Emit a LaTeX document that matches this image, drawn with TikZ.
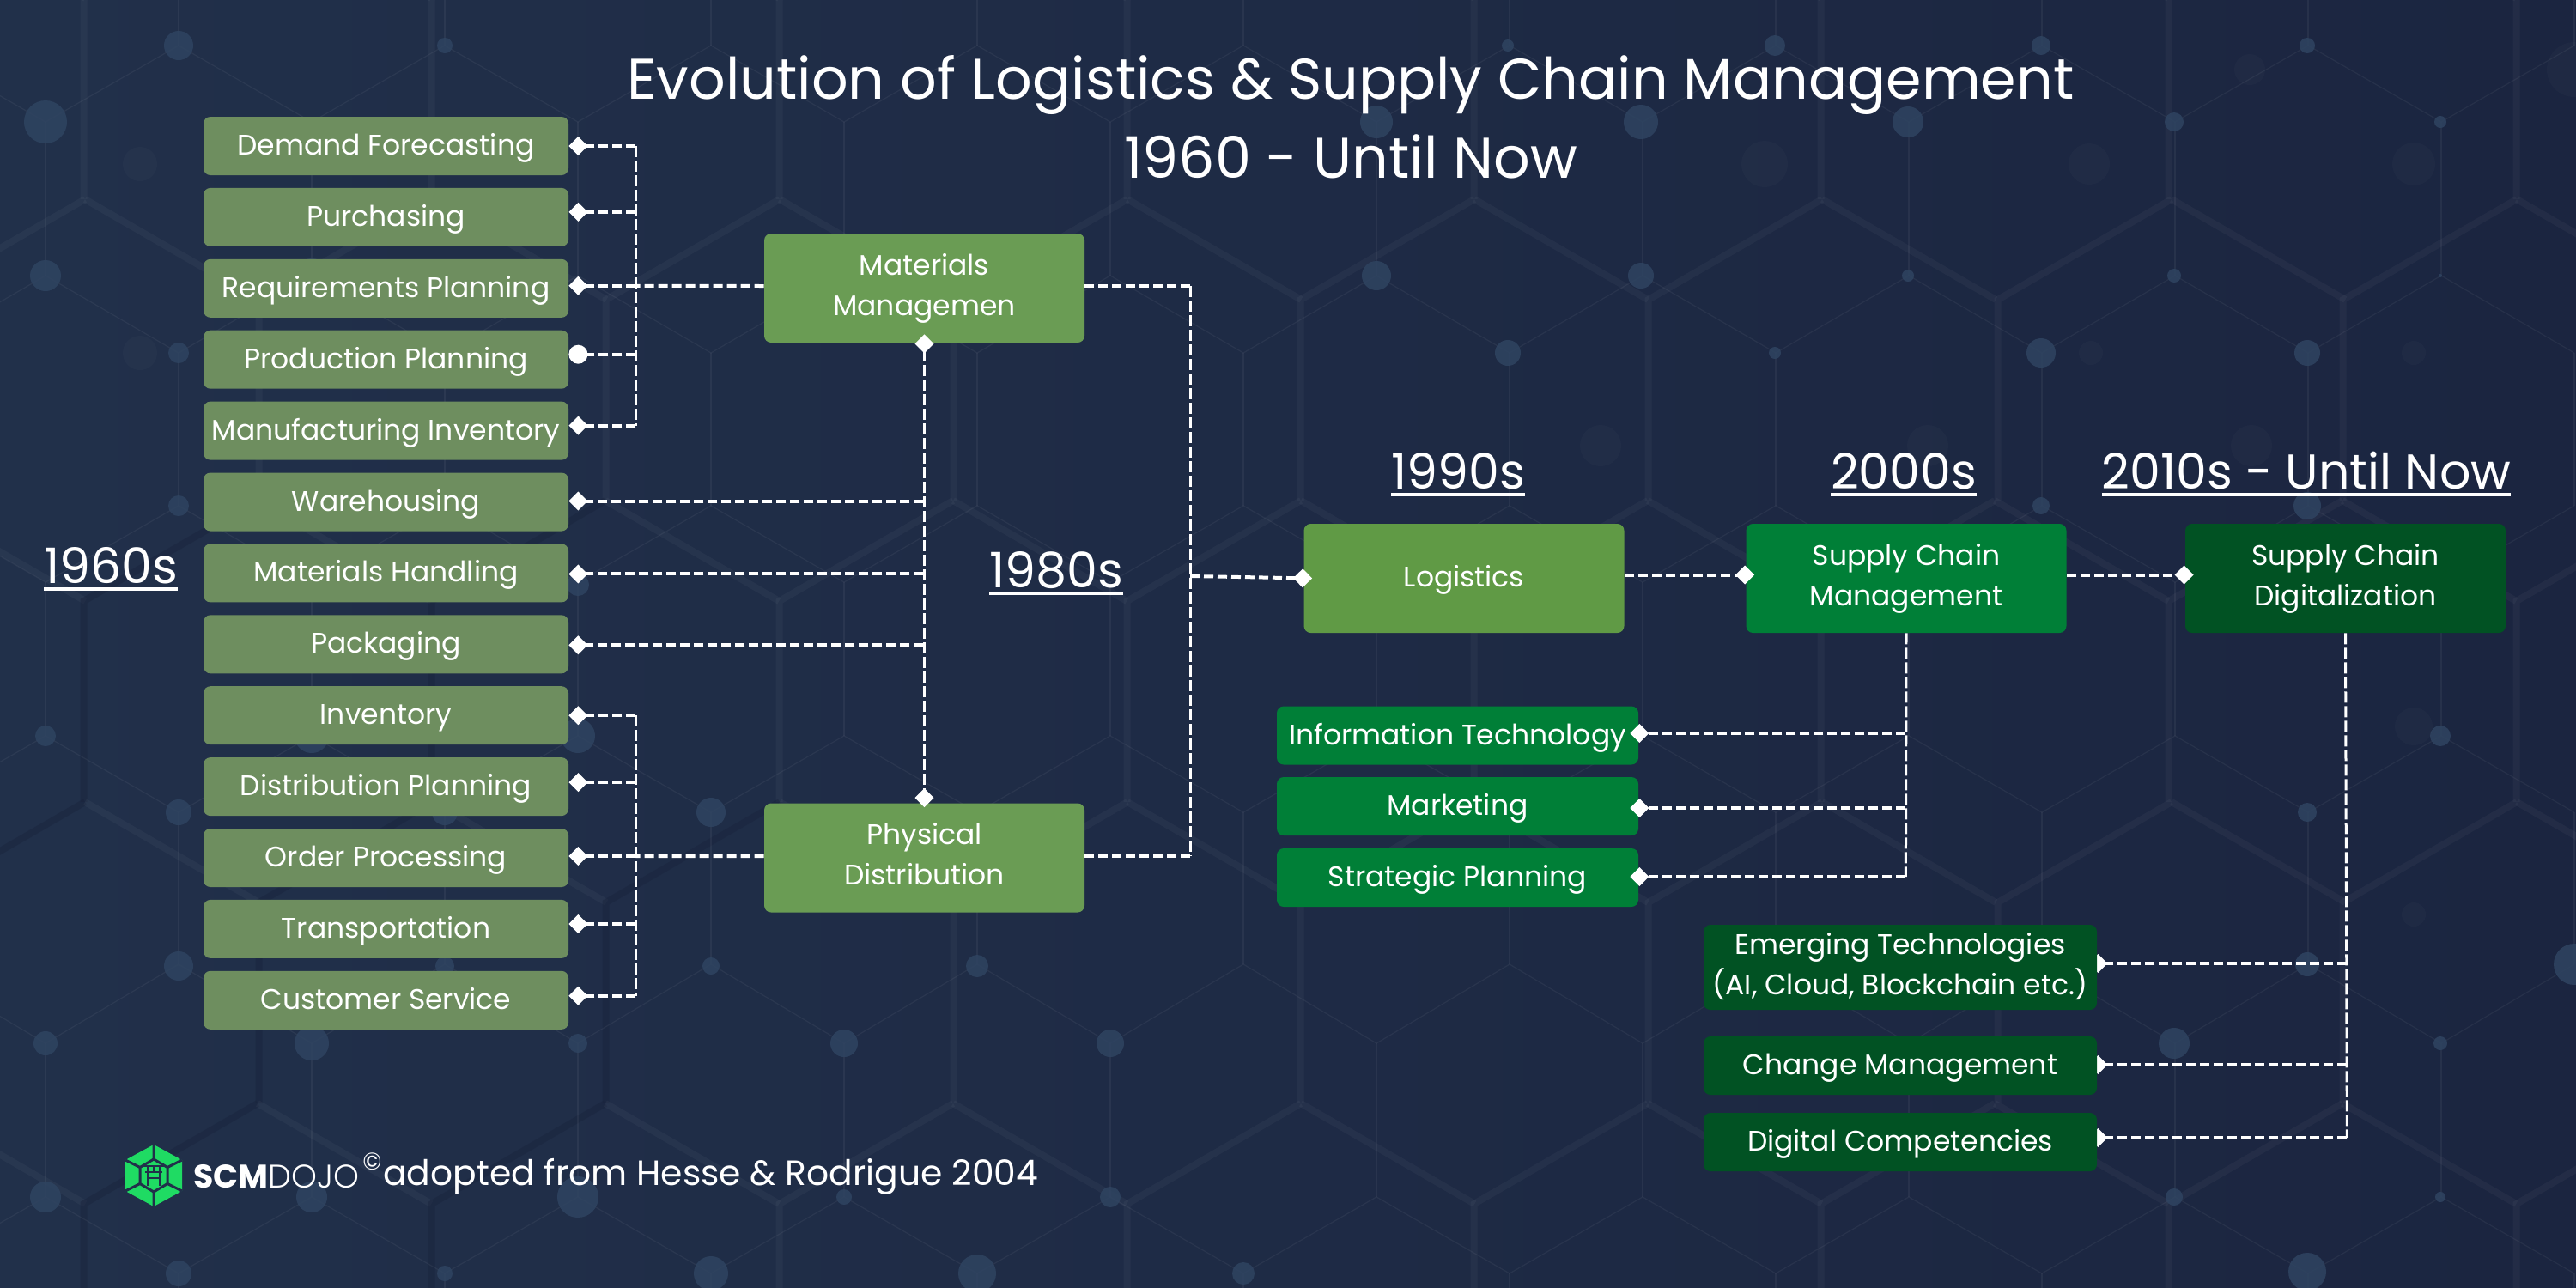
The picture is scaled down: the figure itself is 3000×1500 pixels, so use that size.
\documentclass[tikz,border=0pt]{standalone}
\usepackage{fontspec}
\setmainfont{Poppins}
\newfontfamily\brandlight{Poppins Light}
\usetikzlibrary{arrows.meta,backgrounds}

\definecolor{bgleft}{HTML}{21304A}
\definecolor{bgright}{HTML}{1B2540}
\definecolor{listgreen}{HTML}{6E8E5F}
\definecolor{mgmtgreen}{HTML}{6A9C54}
\definecolor{logigreen}{HTML}{609A45}
\definecolor{scmgreen}{HTML}{007F37}
\definecolor{digigreen}{HTML}{015223}
\definecolor{logogreen}{HTML}{1FDB63}
\definecolor{dotblue}{HTML}{2F4461}
\definecolor{darkline}{HTML}{19233C}

\newcommand{\decade}[1]{\setbox0\hbox{#1}\rlap{\raisebox{-4.5pt}{\rule{\wd0}{1.8pt}}}\box0}

\tikzset{
  box/.style={rounded corners=4pt, inner sep=0pt, text=white, align=center,
    font=\fontsize{16.5}{23.5}\selectfont},
  oneline/.style={text height=14pt, text depth=3.5pt},
  twolines/.style={execute at begin node=\rule[-4.5pt]{0pt}{19pt},
    execute at end node=\rule[-4.5pt]{0pt}{19pt}},
  listbox/.style={box, oneline, fill=listgreen, minimum width=212.5pt, minimum height=34pt},
  mgmtbox/.style={box, twolines, fill=mgmtgreen, minimum width=186.5pt, minimum height=63.5pt},
  stagebox/.style={box, twolines, minimum width=186.5pt, minimum height=63.5pt},
  scmbox/.style={box, oneline, fill=scmgreen, minimum width=210.5pt, minimum height=34pt},
  digibox/.style={box, fill=digigreen, minimum width=229pt, minimum height=34pt},
  decadelabel/.style={text=white, inner sep=0pt, anchor=base, font=\fontsize{28.5}{30}\selectfont},
  titleline/.style={text=white, inner sep=0pt, anchor=base, font=\fontsize{33.4}{36}\selectfont},
  flow/.style={draw=white, line width=2pt, dash pattern=on 5.5pt off 2.5pt},
  flowv/.style={draw=white, line width=1.5pt, dash pattern=on 6.5pt off 2pt},
  diatip/.style={-{Diamond[length=11pt,width=11pt,line width=0pt]}},
  roundtip/.style={-{Circle[length=11pt,line width=0pt]}},
  hexlight/.style={draw=white, draw opacity=.035, line width=4pt},
  hexdark/.style={draw=darkline, draw opacity=.45, line width=4pt},
  thinline/.style={draw=white, draw opacity=.05, line width=.6pt},
  logospoke/.style={draw=bgleft, line width=1.5pt}
}

\begin{document}
\begin{tikzpicture}[x=.5pt,y=-.5pt]
  \useasboundingbox (0,0) rectangle (3000,1500);

  % Backdrop
  \begin{scope}[on background layer]
    \shade[left color=bgleft, right color=bgright] (0,0) rectangle (3000,1500);
    \clip (0,0) rectangle (3000,1500);

    % Thick honeycomb
    \foreach \cy/\cxlist in {115/{-103,300,705,1110,1515,1919,2323,2728,3133},
        466/{99,504,908,1313,1717,2122,2529,2931},
        817/{-103,300,705,1110,1515,1919,2323,2728,3133},
        1168/{99,504,908,1313,1717,2122,2529,2931},
        1519/{-103,300,705,1110,1515,1919,2323,2728,3133}} {
      \foreach \cx in \cxlist {
        \def\hexleft{hexlight}
        \ifnum\cy>600 \ifnum\cx<1100 \def\hexleft{hexdark}\fi\fi
        \draw[\hexleft] (\cx-202.3,\cy+117) -- (\cx-202.3,\cy-117) -- (\cx,\cy-234);
        \draw[hexlight] (\cx,\cy-234) -- (\cx+202.3,\cy-117);
      }
    }

    % Thin lattice
    \foreach \i in {-1,0,...,9} {
      \pgfmathsetmacro\xa{53+310*\i}
      \foreach \ya/\yb in {142/53,321/411,678/589,857/946,1215/1123,1394/1483}
        \draw[thinline] (\xa-155,\yb) -- (\xa,\ya) -- (\xa+155,\yb);
      \foreach \ya/\yb in {142/321,678/857,1215/1394}
        \draw[thinline] (\xa,\ya) -- (\xa,\yb);
      \foreach \ya/\yb in {53/-36,411/589,946/1123,1483/1572}
        \draw[thinline] (\xa+155,\ya) -- (\xa+155,\yb);
    }

    % Dots on the lattice
    \foreach \dx/\dy/\dr in {1756/53/7,2067/53/12,2377/53/11,2687/53/9,1603/142/19,1911/142/20,
        2222/142/18,2532/142/11,2842/142/7,1603/321/17,1911/321/15,2222/321/7,2532/321/8,2842/321/2,
        1756/411/15,2067/411/7,2377/411/17,2687/411/15,2377/589/10,2687/589/16,2532/1215/18,
        2842/1215/8,2842/857/12,2687/1123/14,2687/946/11,2532/1394/10,2842/1394/6,2687/1481/22,
        2998/1123/24,208/53/17,518/53/9,53/142/25,53/321/18,208/411/12,208/589/12,673/681/13,
        363/321/20,53/857/12,363/857/20,673/857/20,208/946/15,518/946/15,828/946/17,208/1125/17,
        518/1125/11,828/1125/10,1138/1125/13,53/1215/14,363/1215/20,673/1215/11,983/1215/16,
        1293/1215/16,53/1394/18,363/1394/18,673/1394/24,983/1394/9,1293/1394/12,208/1483/15,
        518/1483/9,828/1483/20,1138/1483/22,1448/1483/13}
      \fill[dotblue, fill opacity=.85] (\dx,\dy) circle[radius=\dr];

    % Faint dots
    \foreach \dx/\dy/\dr in {2055/191/27,2433/191/24,2811/191/25,1864/519/24,2245/519/24,2622/519/24,
        2811/846/22,2811/1065/14,2998/81/32,2620/81/18,2435/411/14,2811/411/14,163/191/20,163/411/20}
      \fill[white, fill opacity=.018] (\dx,\dy) circle[radius=\dr];
  \end{scope}

  % Title
  \node[titleline] (title) at (1573,115) {Evolution of Logistics \& Supply Chain Management};
  \node[titleline] (subtitle) at (1573,207) {1960 - Until Now};

  % Decades
  \node[decadelabel] (d1960) at (129,679) {\decade{1960s}};
  \node[decadelabel] (d1980) at (1230,684) {\decade{1980s}};
  \node[decadelabel] (d1990) at (1698,569) {\decade{1990s}};
  \node[decadelabel] (d2000) at (2217,569) {\decade{2000s}};
  \node[decadelabel] (d2010) at (2686,569) {\decade{2010s - Until Now}};

  % 1960s list
  \foreach \id/\txt [count=\i from 0] in {demand/Demand Forecasting, purch/Purchasing,
      req/Requirements Planning, prod/Production Planning, manuf/Manufacturing Inventory,
      ware/Warehousing, handl/Materials Handling, pack/Packaging, inv/Inventory,
      dist/Distribution Planning, order/Order Processing, trans/Transportation, cust/Customer Service}
    \node[listbox] (\id) at (449.5,{170+82.9*\i}) {\txt};

  % Management boxes
  \node[mgmtbox] (mat) at (1076.5,335.5) {Materials\\Managemen};
  \node[mgmtbox] (phys) at (1076.5,999) {Physical\\Distribution};

  % Stages
  \node[stagebox, fill=logigreen] (logi) at (1705,673.5) {Logistics};
  \node[stagebox, fill=scmgreen] (scm) at (2220,673.5) {Supply Chain\\Management};
  \node[stagebox, fill=digigreen] (scd) at (2731.5,673.5) {Supply Chain\\Digitalization};

  % SCM topics
  \node[scmbox] (tech) at (1697.5,856.5) {Information Technology};
  \node[scmbox] (mkt) at (1697.5,939) {Marketing};
  \node[scmbox] (strat) at (1697.5,1022) {Strategic Planning};

  % Digital topics
  \node[digibox, twolines, minimum height=49.5pt] (emerg) at (2213,1126.5) {Emerging Technologies\\(AI, Cloud, Blockchain etc.)};
  \node[digibox, oneline] (chg) at (2213,1241) {Change Management};
  \node[digibox, oneline] (comp) at (2213,1330) {Digital Competencies};

  % Joints on the buses
  \foreach \id/\dy/\len in {demand/0/78,purch/3/78,req/1.5/78,prod/3/78,manuf/3/78,
      ware/.5/413,handl/-.5/413,pack/-.5/413,inv/0/78,dist/2.5/78,order/1/78,trans/3/78,cust/2.5/78}
    \path ([yshift=\dy pt]\id.east) ++(\len,0) coordinate (\id-j);
  \foreach \id/\dy in {tech/1.25,mkt/-1,strat/.5}
    \path ([yshift=\dy pt]\id.east) ++(311,0) coordinate (\id-j);
  \foreach \id/\dy in {emerg/2.25,chg/.5,comp/2.5}
    \path ([yshift=\dy pt]\id.east) ++(291,0) coordinate (\id-j);
  \coordinate (trunk) at (1386,671);

  % Left list connectors
  \foreach \id/\dy in {demand/0,purch/3,req/1.5,manuf/3,ware/.5,handl/-.5,pack/-.5,
      inv/0,dist/2.5,order/1,trans/3,cust/2.5}
    \draw[flow,diatip] (\id-j) -- ([yshift=\dy pt]\id.east);
  \draw[flow,roundtip] (prod-j) -- ([yshift=3pt]prod.east);
  \draw[flowv] (demand-j) -- (manuf-j);
  \draw[flowv] (inv-j) -- (cust-j);
  \draw[flow] ([yshift=1.25pt]mat.west) -- (req-j);
  \draw[flow] ([yshift=1pt]phys.west) -- (order-j);

  % Materials to distribution
  \draw[flowv,{Diamond[length=11pt,width=11pt,line width=0pt]}-{Diamond[length=11pt,width=11pt,line width=0pt]}]
    ([yshift=5pt]mat.south) -- ([yshift=-2.5pt]phys.north);

  % To the stages
  \draw[flow] ([yshift=1.25pt]mat.east) -- ([yshift=1.25pt]mat.east -| trunk);
  \draw[flow] ([yshift=1pt]phys.east) -- ([yshift=1pt]phys.east -| trunk);
  \draw[flowv] ([yshift=1.25pt]mat.east -| trunk) -- ([yshift=1pt]phys.east -| trunk);
  \draw[flow,diatip] (trunk) -- ([xshift=5pt]logi.west);
  \draw[flow,diatip] ([yshift=2pt]logi.east) -- ([xshift=5pt,yshift=2pt]scm.west);
  \draw[flow,diatip] ([yshift=2pt]scm.east) -- ([xshift=5pt,yshift=2pt]scd.west);

  % SCM topics connectors
  \draw[flowv] (scm.south) -- (strat-j);
  \foreach \id/\dy in {tech/1.25,mkt/-1,strat/.5}
    \draw[flow,diatip] (\id-j) -- ([xshift=-5pt,yshift=\dy pt]\id.east);

  % Digital topics connectors, half hidden behind the boxes
  \draw[flowv] (scd.south) -- (comp-j);
  \begin{scope}[on background layer]
    \foreach \id/\dy in {emerg/2.25,chg/.5,comp/2.5}
      \draw[flow,diatip] (\id-j) -- ([xshift=-5pt,yshift=\dy pt]\id.east);
  \end{scope}

  % Logo
  \fill[logogreen] (179,1333) -- (212,1351) -- (212,1387) -- (179,1405) -- (146,1387) -- (146,1351) -- cycle;
  \draw[logospoke] (179,1350) -- (195,1359.5) -- (195,1378.5) -- (179,1388) -- (163,1378.5) -- (163,1359.5) -- cycle;
  \draw[logospoke] (179,1333) -- (179,1350) (212,1351) -- (195,1359.5) (212,1387) -- (195,1378.5)
    (179,1405) -- (179,1388) (146,1387) -- (163,1378.5) (146,1351) -- (163,1359.5);
  \draw[logospoke, line width=1.2pt] (167,1358) -- (191,1358) (169,1365) -- (189,1365) (172,1358) -- (172,1381) (186,1358) -- (186,1381) (179,1358) -- (179,1365) (172,1372) -- (186,1372);

  \node[text=white, inner sep=0pt, anchor=base west, font=\fontsize{19}{22}\selectfont] (brand) at (225,1383)
    {\textbf{SCM}{\brandlight DOJO}};
  \node[text=white, inner sep=0pt, anchor=base west, font=\fontsize{14}{16}\selectfont] (copy) at (422,1362) {©};
  \node[text=white, inner sep=0pt, anchor=base west, font=\fontsize{20.4}{24}\selectfont] (source) at (446,1380) {adopted from Hesse \& Rodrigue 2004};
\end{tikzpicture}
\end{document}
